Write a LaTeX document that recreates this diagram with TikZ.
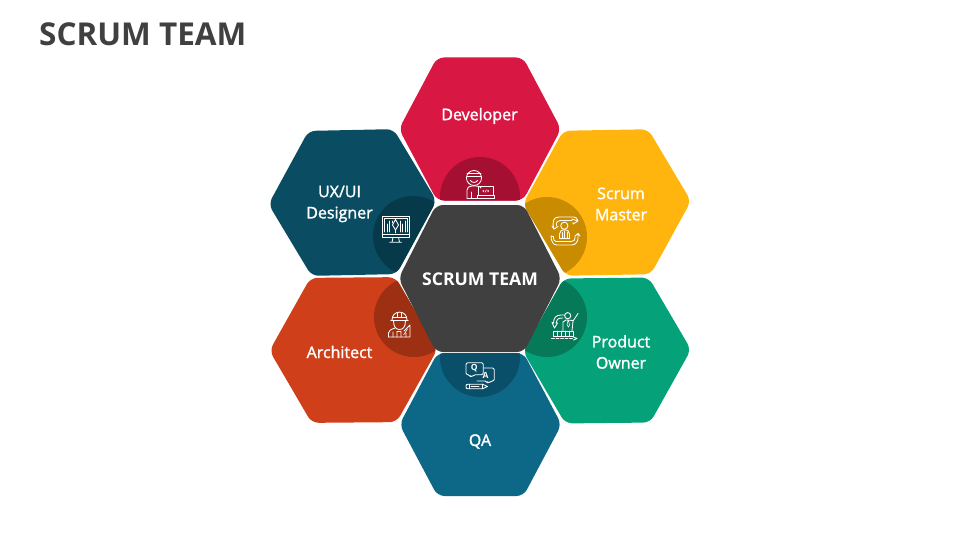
\documentclass[tikz,border=0pt]{standalone}
\usepackage{fontspec}
\setmainfont{Open Sans}
\newfontfamily\labfont[FakeBold=1.6]{Open Sans}
\definecolor{cInk}{HTML}{404040}
\definecolor{cRed}{HTML}{D81743}
\definecolor{cRedD}{HTML}{A50F31}
\definecolor{cYel}{HTML}{FFB50D}
\definecolor{cYelD}{HTML}{C98B00}
\definecolor{cGrn}{HTML}{05A27A}
\definecolor{cGrnD}{HTML}{067A58}
\definecolor{cBlu}{HTML}{0D6786}
\definecolor{cBluD}{HTML}{0A4F6A}
\definecolor{cOra}{HTML}{CF401A}
\definecolor{cOraD}{HTML}{9D3012}
\definecolor{cTea}{HTML}{0A4D62}
\definecolor{cTeaD}{HTML}{063A4A}
\tikzset{
  labeltext/.style={text=white,font=\fontsize{16}{21.2}\labfont,align=center,inner sep=0pt},
  iconline/.style={draw=white,line width=0.85pt,line join=round,line cap=round},
  thinline/.style={draw=white,line width=0.55pt,line cap=round},
}
% cx cy R T h angle fill dark circx circy
\newcommand{\hexcell}[9]{%
  \def\hcx{#1}\def\hcy{#2}\def\hR{#3}\def\hT{#4}\def\hh{#5}\def\hang{#6}%
  \begin{scope}
    \path[clip,rounded corners=7pt,rotate around={\hang:(\hcx,\hcy)}]
      (\hcx-\hR,\hcy) -- (\hcx-\hT,\hcy-\hh) -- (\hcx+\hT,\hcy-\hh) -- (\hcx+\hR,\hcy)
      -- (\hcx+\hT,\hcy+\hh) -- (\hcx-\hT,\hcy+\hh) -- cycle;
    \fill[#7] (\hcx-100,\hcy-100) rectangle (\hcx+100,\hcy+100);
    \fill[#8] (#9) circle (40);
  \end{scope}}
\begin{document}
\begin{tikzpicture}[x=1pt,y=-1pt]
\useasboundingbox (0,0) rectangle (960,540);
\node[anchor=west,inner sep=0pt,text=cInk,font=\fontsize{31.5}{36}\selectfont\bfseries] (title) at (39,34) {SCRUM TEAM};

\hexcell{480}{129}{81}{43}{71.5}{0}{cRed}{cRedD}{480,197}
\hexcell{607}{202.5}{84}{42.5}{72.5}{1}{cYel}{cYelD}{547,237}
\hexcell{607}{350.5}{84}{42.5}{72.5}{0.6}{cGrn}{cGrnD}{547,317}
\hexcell{480.5}{424.5}{81}{43}{71.5}{0}{cBlu}{cBluD}{480,357}
\hexcell{353.5}{350}{84}{42.5}{72.5}{0.5}{cOra}{cOraD}{414,317}
\hexcell{352.5}{202.5}{84}{42.5}{72.5}{1.2}{cTea}{cTeaD}{413,236}
\hexcell{480}{278.5}{81.5}{44}{73.5}{0}{cInk}{cInk}{480,278.5}

\node[labeltext] (developer) at (479.5,116) {Developer};
\node[labeltext] (scrum) at (621,204) {Scrum\\Master};
\node[labeltext] (product) at (621,352) {Product\\Owner};
\node[labeltext] (qa) at (480,441.5) {QA};
\node[labeltext] (architect) at (339.5,352) {Architect};
\node[labeltext] (ux) at (339.5,204) {UX/UI\\Designer};
\node[labeltext,font=\fontsize{17.6}{21}\selectfont\bfseries] (center) at (480,279) {SCRUM TEAM};

% Developer icon
\draw[iconline] (474,178) circle (7.5);
\draw[iconline] (466.8,176) -- (481.2,176);
\draw[thinline] (467,173.5) -- (481,173.5);
\draw[iconline] (470.5,180.5) .. controls (472,183) and (476,183) .. (477.5,180.5);
\draw[iconline] (467,198) -- (467,190) .. controls (467,187.5) and (469,186) .. (472,186) -- (476,186) .. controls (479,186) and (481,187) .. (481,188);
\draw[iconline] (467,198) -- (477,198);
\draw[iconline] (471.5,192) -- (471.5,198);
\draw[iconline] (478.5,195.5) -- (478.5,186.8) -- (493,186.8) -- (493,195.5);
\draw[iconline] (477,195.7) -- (494,195.7) -- (494,198) -- (477,198) -- cycle;
\draw[thinline] (484,190) -- (482.8,191) -- (484,192) (487.5,190) -- (488.7,191) -- (487.5,192) (486.5,189.7) -- (485,192.3);

% Scrum Master icon
\draw[iconline] (564.3,225.7) circle (3.6);
\draw[iconline] (559.5,238.5) -- (559.5,234) .. controls (559.5,231) and (562,229.6) .. (564.5,229.6) .. controls (567,229.6) and (569.5,231) .. (569.5,234) -- (569.5,238.5) -- cycle;
\draw[thinline] (562,238) -- (562,232.5) (564.5,238) -- (564.5,231) (567,238) -- (567,232.5);
\draw[iconline] (554,229) .. controls (552,222) and (553,217) .. (559,217) -- (574,217) .. controls (576,217) and (577,218.5) .. (578,221) (556.5,226) .. controls (556,222.5) and (557,220.5) .. (560,220.5) -- (572,220.5) -- (572,219) -- (578,221) -- (573,224) -- (573,222.5);
\draw[iconline] (552,226) -- (554,229) -- (558,226.5);
\draw[iconline] (551,236) .. controls (551,241) and (553,245) .. (557,245) -- (572,245) .. controls (576,245) and (578,241) .. (578,238) -- (578,233.5) -- (580,236) (578,233.5) -- (575,236) -- (575,238) .. controls (575,240) and (574,241.5) .. (571,241.5) -- (556,241.5) .. controls (554,241.5) and (553,239) .. (553.5,236.5) -- (551,236);

% Product Owner icon
\draw[iconline] (567.7,315.7) circle (3.1);
\draw[iconline] (578,313.5) -- (573,321) -- (572,331);
\draw[iconline] (563,331) -- (563,322) -- (566,320) -- (573,320.5);
\draw[thinline] (568,320.5) -- (567,325) -- (568.5,327) -- (569.5,325) -- (568.5,320.5);
\draw[iconline] (564.5,315) -- (561,315) .. controls (556,315) and (553.5,318) .. (553.5,323) -- (552,322.5) -- (554.5,328) -- (557.5,323) -- (556,323) .. controls (556,320) and (558,318) .. (562,318) -- (563,318);
\draw[iconline] (553.5,331) rectangle (573,336);
\draw[thinline] (557.5,331) -- (557.5,336) (561.5,331) -- (561.5,336) (565.5,331) -- (565.5,336) (569.5,331) -- (569.5,336);
\draw[iconline,dash pattern=on 3pt off 1.5pt] (551.5,338.5) -- (574,338.5);
\draw[iconline] (573.5,337) -- (577,338.5) -- (573.5,340);

% QA icon
\draw[iconline,rounded corners=2pt] (476,368) -- (494.3,368) -- (494.3,381) -- (490.5,381) -- (488,383.5) -- (487,381) -- (477,381);
\draw[iconline,fill=cBluD,rounded corners=2pt] (466,362.7) -- (483.3,362.7) -- (483.3,374.7) -- (473.5,374.7) -- (471,377.5) -- (470,374.7) -- (466,374.7) -- cycle;
\node[text=white,font=\fontsize{8.5}{8.5}\selectfont\bfseries,inner sep=0pt] (qicon) at (474.3,368.6) {Q};
\node[text=white,font=\fontsize{8.5}{8.5}\selectfont\bfseries,inner sep=0pt] (aicon) at (485.5,375) {A};
\draw[iconline,rounded corners=1pt] (482.5,384.2) -- (467,384.2) -- (466,385) -- (466,388) -- (467,388.8) -- (482.5,388.8);
\draw[iconline] (482.5,384.2) -- (487.5,386.5) -- (482.5,388.8) -- cycle;
\draw[thinline] (469,384.2) -- (469,388.8) (471,386.5) -- (479,386.5);

% Architect icon
\draw[iconline] (392,320) .. controls (392,309.5) and (407,309.5) .. (407,320);
\draw[iconline] (390.8,320) -- (408.2,320);
\draw[thinline] (392.5,317) -- (406.5,317);
\draw[thinline] (397.5,313) -- (397.5,317) (401.5,313) -- (401.5,317);
\draw[iconline] (393.5,320.5) .. controls (393.5,327) and (396,329.5) .. (399.5,329.5) .. controls (403,329.5) and (405.5,327) .. (405.5,320.5);
\draw[iconline] (388.5,337) -- (388.5,333) .. controls (388.5,330.5) and (391,329.5) .. (395,328);
\draw[iconline] (388.5,337) -- (410,337) -- (410,325) -- (404,331);
\draw[thinline] (393,337) -- (393,332) (397,337) -- (397,331.5) -- (401,331.5) -- (401,337) (406,337) -- (406,333) (407.5,329) -- (403.5,335);

% UX/UI Designer icon
\draw[iconline] (382.3,216) rectangle (409.3,237.3);
\draw[iconline] (382.3,234) -- (409.3,234);
\draw[iconline] (393,237.3) -- (392,242.3) (398.5,237.3) -- (399.5,242.3) (389.7,242.3) -- (401.5,242.3);
\draw[thinline] (384.5,218.5) -- (407,218.5) -- (407,232) (384.5,218.5) -- (384.5,232);
\draw[iconline] (395.5,219.5) -- (392.5,225) -- (395.5,230) -- (398.5,225) -- cycle;
\draw[thinline] (395.5,230) -- (395.5,233);
\draw[thinline] (387,232) -- (387,224) (389.5,232) -- (389.5,221) (392,221) -- (392,223) (400,232) -- (400,221) (402.5,232) -- (402.5,224) (405,232) -- (405,221);
\end{tikzpicture}
\end{document}
